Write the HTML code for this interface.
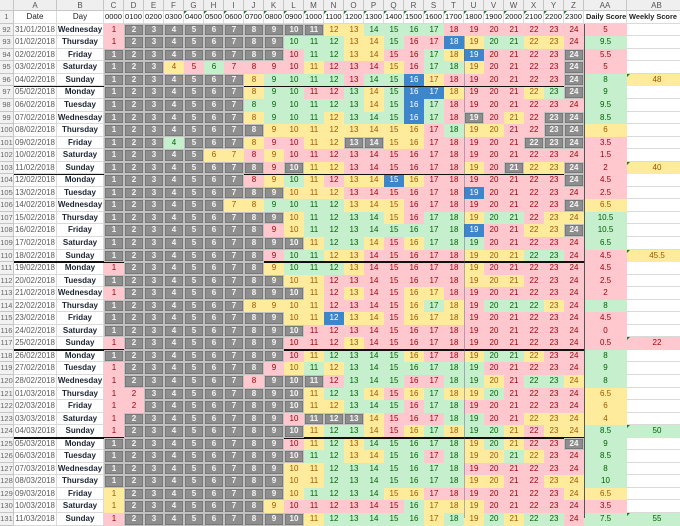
<!DOCTYPE html>
<html><head><meta charset="utf-8"><style>
body{margin:0;width:680px;height:518px;overflow:hidden;background:#fff;position:relative;font-family:"Liberation Sans",Arial,sans-serif}
#g{display:grid;grid-template-columns:14px 43px 47px repeat(24,20px) 43px 60px;grid-template-rows:11px 12.7px repeat(40,12.55px);width:690px}
#g>i{font-style:normal;font-size:8px;line-height:12.55px;text-align:center;white-space:nowrap;box-sizing:border-box;border-right:1px solid #dadada;border-bottom:1px solid #dadada;color:#222;overflow:visible}
#g>i.h{background:#efefef;color:#555;line-height:11px;border-color:#c6c6c6}
#g>i.r{background:#f1f1f1;color:#666;border-color:#c6c6c6;font-size:7.5px}
#g>i.a{color:#5a5a5a}
#g>i.d{font-weight:bold;color:#1c2433}
#g>i.k{font-weight:bold;color:#222;font-size:7.4px;text-align:left;padding-left:2px}
#g>i.c{font-size:7.6px;color:#111}
#g>i.p{background:#ffc7ce;color:#9c0006;border:0}
#g>i.y{background:#ffeb9c;color:#9c5700;border:0}
#g>i.n{background:#c6efce;color:#006100;border:0}
#g>i.b{background:#3d86cc;color:#fff;border:0}
#g>i.g{background:#8e8e8e;color:#f5f5f5;border:0;font-weight:bold;position:relative;z-index:2;box-shadow:inset 0 0 0 1px #c2c2c2,inset 0 0 0 1.6px #6c6c6c}
#g>i.t{position:relative}
#g>i.t::before{content:"";position:absolute;left:0;top:0;border-top:3px solid #1e7b34;border-right:3px solid transparent}
.l{position:absolute;left:14px;width:570px;height:1.6px;background:#111;z-index:1}
.v{position:absolute;width:1px;z-index:1}
</style></head><body>
<div id="g">
<i class=h></i><i class=h>A</i><i class=h>B</i><i class=h>C</i><i class=h>D</i><i class=h>E</i><i class=h>F</i><i class=h>G</i><i class=h>H</i><i class=h>I</i><i class=h>J</i><i class=h>K</i><i class=h>L</i><i class=h>M</i><i class=h>N</i><i class=h>O</i><i class=h>P</i><i class=h>Q</i><i class=h>R</i><i class=h>S</i><i class=h>T</i><i class=h>U</i><i class=h>V</i><i class=h>W</i><i class=h>X</i><i class=h>Y</i><i class=h>Z</i><i class=h>AA</i><i class=h>AB</i>
<i class=r>1</i><i>Date</i><i>Day</i><i class=c>0000</i><i class=c>0100</i><i class=c>0200</i><i class=c>0300</i><i class="c t">0400</i><i class="c t">0500</i><i class="c t">0600</i><i class="c t">0700</i><i class="c t">0800</i><i class="c t">0900</i><i class="c t">1000</i><i class="c t">1100</i><i class="c t">1200</i><i class="c t">1300</i><i class="c t">1400</i><i class="c t">1500</i><i class="c t">1600</i><i class="c t">1700</i><i class="c t">1800</i><i class="c t">1900</i><i class="c t">2000</i><i class="c t">2100</i><i class="c t">2200</i><i class="c t">2300</i><i class=k>Daily Score</i><i class=k>Weekly Score</i>

<i class=r>92</i><i class=a>31/01/2018</i><i class=d>Wednesday</i><i class=p>1</i><i class=g>2</i><i class=g>3</i><i class=g>4</i><i class=g>5</i><i class=g>6</i><i class=g>7</i><i class=g>8</i><i class=g>9</i><i class=g>10</i><i class=g>11</i><i class=y>12</i><i class=y>13</i><i class=n>14</i><i class=n>15</i><i class=n>16</i><i class=n>17</i><i class=p>18</i><i class=p>19</i><i class=p>20</i><i class=p>21</i><i class=p>22</i><i class=p>23</i><i class=p>24</i><i class=p>5</i><i></i>

<i class=r>93</i><i class=a>01/02/2018</i><i class=d>Thursday</i><i class=p>1</i><i class=g>2</i><i class=g>3</i><i class=g>4</i><i class=g>5</i><i class=g>6</i><i class=g>7</i><i class=g>8</i><i class=g>9</i><i class=n>10</i><i class=n>11</i><i class=n>12</i><i class=y>13</i><i class=y>14</i><i class=n>15</i><i class=p>16</i><i class=p>17</i><i class=b>18</i><i class=y>19</i><i class=n>20</i><i class=n>21</i><i class=y>22</i><i class=y>23</i><i class=p>24</i><i class=n>9.5</i><i></i>

<i class=r>94</i><i class=a>02/02/2018</i><i class=d>Friday</i><i class=g>1</i><i class=g>2</i><i class=g>3</i><i class=g>4</i><i class=g>5</i><i class=g>6</i><i class=g>7</i><i class=g>8</i><i class=g>9</i><i class=p>10</i><i class=n>11</i><i class=n>12</i><i class=y>13</i><i class=y>14</i><i class=p>15</i><i class=p>16</i><i class=n>17</i><i class=y>18</i><i class=b>19</i><i class=p>20</i><i class=p>21</i><i class=p>22</i><i class=p>23</i><i class=g>24</i><i class=p>5.5</i><i></i>

<i class=r>95</i><i class=a>03/02/2018</i><i class=d>Saturday</i><i class=g>1</i><i class=g>2</i><i class=g>3</i><i class=y>4</i><i class=p>5</i><i class=n>6</i><i class=p>7</i><i class=p>8</i><i class=p>9</i><i class=p>10</i><i class=y>11</i><i class=p>12</i><i class=p>13</i><i class=p>14</i><i class=y>15</i><i class=p>16</i><i class=n>17</i><i class=n>18</i><i class=y>19</i><i class=p>20</i><i class=p>21</i><i class=p>22</i><i class=p>23</i><i class=g>24</i><i class=p>5</i><i></i>

<i class=r>96</i><i class=a>04/02/2018</i><i class=d>Sunday</i><i class=g>1</i><i class=g>2</i><i class=g>3</i><i class=g>4</i><i class=g>5</i><i class=g>6</i><i class=g>7</i><i class=y>8</i><i class=n>9</i><i class=n>10</i><i class=n>11</i><i class=n>12</i><i class=p>13</i><i class=n>14</i><i class=n>15</i><i class=b>16</i><i class=y>17</i><i class=p>18</i><i class=p>19</i><i class=p>20</i><i class=p>21</i><i class=p>22</i><i class=p>23</i><i class=g>24</i><i class=n>8</i><i class="y t">48</i>

<i class=r>97</i><i class=a>05/02/2018</i><i class=d>Monday</i><i class=g>1</i><i class=g>2</i><i class=g>3</i><i class=g>4</i><i class=g>5</i><i class=g>6</i><i class=g>7</i><i class=y>8</i><i class=n>9</i><i class=n>10</i><i class=p>11</i><i class=p>12</i><i class=n>13</i><i class=y>14</i><i class=n>15</i><i class=b>16</i><i class=b>17</i><i class=y>18</i><i class=p>19</i><i class=p>20</i><i class=p>21</i><i class=y>22</i><i class=n>23</i><i class=g>24</i><i class=n>9</i><i></i>

<i class=r>98</i><i class=a>06/02/2018</i><i class=d>Tuesday</i><i class=g>1</i><i class=g>2</i><i class=g>3</i><i class=g>4</i><i class=g>5</i><i class=g>6</i><i class=g>7</i><i class=n>8</i><i class=n>9</i><i class=n>10</i><i class=n>11</i><i class=n>12</i><i class=n>13</i><i class=y>14</i><i class=n>15</i><i class=b>16</i><i class=n>17</i><i class=p>18</i><i class=p>19</i><i class=p>20</i><i class=p>21</i><i class=p>22</i><i class=p>23</i><i class=p>24</i><i class=n>9.5</i><i></i>

<i class=r>99</i><i class=a>07/02/2018</i><i class=d>Wednesday</i><i class=g>1</i><i class=g>2</i><i class=g>3</i><i class=g>4</i><i class=g>5</i><i class=g>6</i><i class=g>7</i><i class=y>8</i><i class=n>9</i><i class=n>10</i><i class=n>11</i><i class=y>12</i><i class=n>13</i><i class=n>14</i><i class=n>15</i><i class=b>16</i><i class=n>17</i><i class=p>18</i><i class=g>19</i><i class=p>20</i><i class=y>21</i><i class=p>22</i><i class=g>23</i><i class=g>24</i><i class=n>8.5</i><i></i>

<i class=r>100</i><i class=a>08/02/2018</i><i class=d>Thursday</i><i class=g>1</i><i class=g>2</i><i class=g>3</i><i class=g>4</i><i class=g>5</i><i class=g>6</i><i class=g>7</i><i class=g>8</i><i class=y>9</i><i class=y>10</i><i class=y>11</i><i class=y>12</i><i class=y>13</i><i class=y>14</i><i class=y>15</i><i class=y>16</i><i class=p>17</i><i class=n>18</i><i class=y>19</i><i class=y>20</i><i class=p>21</i><i class=p>22</i><i class=g>23</i><i class=g>24</i><i class=y>6</i><i></i>

<i class=r>101</i><i class=a>09/02/2018</i><i class=d>Friday</i><i class=g>1</i><i class=g>2</i><i class=g>3</i><i class=n>4</i><i class=g>5</i><i class=g>6</i><i class=g>7</i><i class=y>8</i><i class=p>9</i><i class=p>10</i><i class=y>11</i><i class=y>12</i><i class=g>13</i><i class=g>14</i><i class=y>15</i><i class=y>16</i><i class=p>17</i><i class=p>18</i><i class=p>19</i><i class=p>20</i><i class=p>21</i><i class=g>22</i><i class=g>23</i><i class=g>24</i><i class=p>3.5</i><i></i>

<i class=r>102</i><i class=a>10/02/2018</i><i class=d>Saturday</i><i class=g>1</i><i class=g>2</i><i class=g>3</i><i class=g>4</i><i class=g>5</i><i class=y>6</i><i class=y>7</i><i class=p>8</i><i class=y>9</i><i class=p>10</i><i class=p>11</i><i class=p>12</i><i class=p>13</i><i class=p>14</i><i class=p>15</i><i class=p>16</i><i class=p>17</i><i class=p>18</i><i class=p>19</i><i class=p>20</i><i class=p>21</i><i class=p>22</i><i class=p>23</i><i class=p>24</i><i class=p>1.5</i><i></i>

<i class=r>103</i><i class=a>11/02/2018</i><i class=d>Sunday</i><i class=g>1</i><i class=g>2</i><i class=g>3</i><i class=g>4</i><i class=g>5</i><i class=g>6</i><i class=g>7</i><i class=g>8</i><i class=p>9</i><i class=g>10</i><i class=y>11</i><i class=y>12</i><i class=p>13</i><i class=p>14</i><i class=p>15</i><i class=p>16</i><i class=p>17</i><i class=p>18</i><i class=y>19</i><i class=p>20</i><i class=g>21</i><i class=y>22</i><i class=y>23</i><i class=g>24</i><i class=p>2</i><i class="y t">40</i>

<i class=r>104</i><i class=a>12/02/2018</i><i class=d>Monday</i><i class=g>1</i><i class=g>2</i><i class=g>3</i><i class=g>4</i><i class=g>5</i><i class=g>6</i><i class=g>7</i><i class=p>8</i><i class=y>9</i><i class=n>10</i><i class=y>11</i><i class=p>12</i><i class=y>13</i><i class=y>14</i><i class=b>15</i><i class=y>16</i><i class=p>17</i><i class=p>18</i><i class=p>19</i><i class=p>20</i><i class=p>21</i><i class=p>22</i><i class=p>23</i><i class=g>24</i><i class=p>4.5</i><i></i>

<i class=r>105</i><i class=a>13/02/2018</i><i class=d>Tuesday</i><i class=g>1</i><i class=g>2</i><i class=g>3</i><i class=g>4</i><i class=g>5</i><i class=g>6</i><i class=g>7</i><i class=g>8</i><i class=g>9</i><i class=y>10</i><i class=y>11</i><i class=y>12</i><i class=p>13</i><i class=p>14</i><i class=p>15</i><i class=p>16</i><i class=p>17</i><i class=p>18</i><i class=b>19</i><i class=p>20</i><i class=p>21</i><i class=p>22</i><i class=p>23</i><i class=p>24</i><i class=p>2.5</i><i></i>

<i class=r>106</i><i class=a>14/02/2018</i><i class=d>Wednesday</i><i class=g>1</i><i class=g>2</i><i class=g>3</i><i class=g>4</i><i class=g>5</i><i class=g>6</i><i class=y>7</i><i class=y>8</i><i class=n>9</i><i class=n>10</i><i class=n>11</i><i class=n>12</i><i class=y>13</i><i class=y>14</i><i class=y>15</i><i class=p>16</i><i class=p>17</i><i class=p>18</i><i class=p>19</i><i class=p>20</i><i class=p>21</i><i class=p>22</i><i class=p>23</i><i class=g>24</i><i class=y>6.5</i><i></i>

<i class=r>107</i><i class=a>15/02/2018</i><i class=d>Thursday</i><i class=g>1</i><i class=g>2</i><i class=g>3</i><i class=g>4</i><i class=g>5</i><i class=g>6</i><i class=g>7</i><i class=g>8</i><i class=g>9</i><i class=y>10</i><i class=n>11</i><i class=n>12</i><i class=n>13</i><i class=n>14</i><i class=y>15</i><i class=p>16</i><i class=n>17</i><i class=n>18</i><i class=y>19</i><i class=n>20</i><i class=n>21</i><i class=p>22</i><i class=y>23</i><i class=y>24</i><i class=n>10.5</i><i></i>

<i class=r>108</i><i class=a>16/02/2018</i><i class=d>Friday</i><i class=g>1</i><i class=g>2</i><i class=g>3</i><i class=g>4</i><i class=g>5</i><i class=g>6</i><i class=g>7</i><i class=g>8</i><i class=p>9</i><i class=y>10</i><i class=n>11</i><i class=n>12</i><i class=n>13</i><i class=n>14</i><i class=n>15</i><i class=n>16</i><i class=n>17</i><i class=n>18</i><i class=b>19</i><i class=p>20</i><i class=p>21</i><i class=y>22</i><i class=y>23</i><i class=g>24</i><i class=n>10.5</i><i></i>

<i class=r>109</i><i class=a>17/02/2018</i><i class=d>Saturday</i><i class=g>1</i><i class=g>2</i><i class=g>3</i><i class=g>4</i><i class=g>5</i><i class=g>6</i><i class=g>7</i><i class=g>8</i><i class=g>9</i><i class=g>10</i><i class=y>11</i><i class=n>12</i><i class=n>13</i><i class=y>14</i><i class=p>15</i><i class=y>16</i><i class=n>17</i><i class=n>18</i><i class=n>19</i><i class=p>20</i><i class=p>21</i><i class=p>22</i><i class=p>23</i><i class=p>24</i><i class=n>6.5</i><i></i>

<i class=r>110</i><i class=a>18/02/2018</i><i class=d>Sunday</i><i class=g>1</i><i class=g>2</i><i class=g>3</i><i class=g>4</i><i class=g>5</i><i class=g>6</i><i class=g>7</i><i class=g>8</i><i class=p>9</i><i class=n>10</i><i class=n>11</i><i class=y>12</i><i class=y>13</i><i class=p>14</i><i class=p>15</i><i class=p>16</i><i class=p>17</i><i class=p>18</i><i class=y>19</i><i class=y>20</i><i class=y>21</i><i class=n>22</i><i class=n>23</i><i class=p>24</i><i class=p>4.5</i><i class="y t">45.5</i>

<i class=r>111</i><i class=a>19/02/2018</i><i class=d>Monday</i><i class=p>1</i><i class=g>2</i><i class=g>3</i><i class=g>4</i><i class=g>5</i><i class=g>6</i><i class=g>7</i><i class=g>8</i><i class=y>9</i><i class=n>10</i><i class=n>11</i><i class=n>12</i><i class=y>13</i><i class=p>14</i><i class=p>15</i><i class=p>16</i><i class=p>17</i><i class=p>18</i><i class=y>19</i><i class=p>20</i><i class=p>21</i><i class=p>22</i><i class=p>23</i><i class=p>24</i><i class=p>4.5</i><i></i>

<i class=r>112</i><i class=a>20/02/2018</i><i class=d>Tuesday</i><i class=g>1</i><i class=g>2</i><i class=g>3</i><i class=g>4</i><i class=g>5</i><i class=g>6</i><i class=g>7</i><i class=g>8</i><i class=g>9</i><i class=y>10</i><i class=y>11</i><i class=p>12</i><i class=p>13</i><i class=p>14</i><i class=p>15</i><i class=p>16</i><i class=p>17</i><i class=p>18</i><i class=y>19</i><i class=y>20</i><i class=y>21</i><i class=p>22</i><i class=p>23</i><i class=p>24</i><i class=p>2.5</i><i></i>

<i class=r>113</i><i class=a>21/02/2018</i><i class=d>Wednesday</i><i class=p>1</i><i class=g>2</i><i class=g>3</i><i class=g>4</i><i class=g>5</i><i class=g>6</i><i class=g>7</i><i class=g>8</i><i class=g>9</i><i class=g>10</i><i class=y>11</i><i class=p>12</i><i class=y>13</i><i class=p>14</i><i class=p>15</i><i class=y>16</i><i class=y>17</i><i class=p>18</i><i class=p>19</i><i class=p>20</i><i class=p>21</i><i class=p>22</i><i class=p>23</i><i class=p>24</i><i class=p>2</i><i></i>

<i class=r>114</i><i class=a>22/02/2018</i><i class=d>Thursday</i><i class=g>1</i><i class=g>2</i><i class=g>3</i><i class=g>4</i><i class=g>5</i><i class=g>6</i><i class=g>7</i><i class=y>8</i><i class=y>9</i><i class=y>10</i><i class=y>11</i><i class=p>12</i><i class=p>13</i><i class=p>14</i><i class=p>15</i><i class=y>16</i><i class=n>17</i><i class=y>18</i><i class=p>19</i><i class=n>20</i><i class=n>21</i><i class=n>22</i><i class=y>23</i><i class=p>24</i><i class=n>8</i><i></i>

<i class=r>115</i><i class=a>23/02/2018</i><i class=d>Friday</i><i class=g>1</i><i class=g>2</i><i class=g>3</i><i class=g>4</i><i class=g>5</i><i class=g>6</i><i class=g>7</i><i class=g>8</i><i class=g>9</i><i class=y>10</i><i class=y>11</i><i class=b>12</i><i class=y>13</i><i class=y>14</i><i class=p>15</i><i class=y>16</i><i class=y>17</i><i class=y>18</i><i class=p>19</i><i class=p>20</i><i class=p>21</i><i class=p>22</i><i class=p>23</i><i class=p>24</i><i class=p>4.5</i><i></i>

<i class=r>116</i><i class=a>24/02/2018</i><i class=d>Saturday</i><i class=g>1</i><i class=g>2</i><i class=g>3</i><i class=g>4</i><i class=g>5</i><i class=g>6</i><i class=g>7</i><i class=g>8</i><i class=g>9</i><i class=g>10</i><i class=p>11</i><i class=p>12</i><i class=p>13</i><i class=p>14</i><i class=p>15</i><i class=p>16</i><i class=p>17</i><i class=p>18</i><i class=p>19</i><i class=p>20</i><i class=p>21</i><i class=p>22</i><i class=p>23</i><i class=p>24</i><i class=p>0</i><i></i>

<i class=r>117</i><i class=a>25/02/2018</i><i class=d>Sunday</i><i class=p>1</i><i class=g>2</i><i class=g>3</i><i class=g>4</i><i class=g>5</i><i class=g>6</i><i class=g>7</i><i class=g>8</i><i class=g>9</i><i class=p>10</i><i class=p>11</i><i class=p>12</i><i class=y>13</i><i class=p>14</i><i class=p>15</i><i class=p>16</i><i class=p>17</i><i class=p>18</i><i class=p>19</i><i class=p>20</i><i class=p>21</i><i class=p>22</i><i class=p>23</i><i class=p>24</i><i class=p>0.5</i><i class="p t">22</i>

<i class=r>118</i><i class=a>26/02/2018</i><i class=d>Monday</i><i class=g>1</i><i class=g>2</i><i class=g>3</i><i class=g>4</i><i class=g>5</i><i class=g>6</i><i class=g>7</i><i class=g>8</i><i class=g>9</i><i class=p>10</i><i class=y>11</i><i class=n>12</i><i class=n>13</i><i class=n>14</i><i class=n>15</i><i class=y>16</i><i class=p>17</i><i class=p>18</i><i class=y>19</i><i class=n>20</i><i class=n>21</i><i class=y>22</i><i class=p>23</i><i class=p>24</i><i class=n>8</i><i></i>

<i class=r>119</i><i class=a>27/02/2018</i><i class=d>Tuesday</i><i class=p>1</i><i class=g>2</i><i class=g>3</i><i class=g>4</i><i class=g>5</i><i class=g>6</i><i class=g>7</i><i class=g>8</i><i class=p>9</i><i class=y>10</i><i class=n>11</i><i class=y>12</i><i class=n>13</i><i class=n>14</i><i class=n>15</i><i class=n>16</i><i class=n>17</i><i class=n>18</i><i class=n>19</i><i class=p>20</i><i class=p>21</i><i class=p>22</i><i class=p>23</i><i class=p>24</i><i class=n>9</i><i></i>

<i class=r>120</i><i class=a>28/02/2018</i><i class=d>Wednesday</i><i class=p>1</i><i class=g>2</i><i class=g>3</i><i class=g>4</i><i class=g>5</i><i class=g>6</i><i class=g>7</i><i class=p>8</i><i class=g>9</i><i class=g>10</i><i class=g>11</i><i class=p>12</i><i class=n>13</i><i class=n>14</i><i class=n>15</i><i class=p>16</i><i class=p>17</i><i class=n>18</i><i class=n>19</i><i class=y>20</i><i class=p>21</i><i class=n>22</i><i class=n>23</i><i class=y>24</i><i class=n>8</i><i></i>

<i class=r>121</i><i class=a>01/03/2018</i><i class=d>Thursday</i><i class=p>1</i><i class=p>2</i><i class=g>3</i><i class=g>4</i><i class=g>5</i><i class=g>6</i><i class=g>7</i><i class=g>8</i><i class=g>9</i><i class=g>10</i><i class=y>11</i><i class=n>12</i><i class=n>13</i><i class=y>14</i><i class=p>15</i><i class=y>16</i><i class=n>17</i><i class=y>18</i><i class=y>19</i><i class=n>20</i><i class=p>21</i><i class=p>22</i><i class=p>23</i><i class=p>24</i><i class=y>6.5</i><i></i>

<i class=r>122</i><i class=a>02/03/2018</i><i class=d>Friday</i><i class=p>1</i><i class=p>2</i><i class=g>3</i><i class=g>4</i><i class=g>5</i><i class=g>6</i><i class=g>7</i><i class=g>8</i><i class=g>9</i><i class=g>10</i><i class=y>11</i><i class=y>12</i><i class=n>13</i><i class=n>14</i><i class=n>15</i><i class=p>16</i><i class=n>17</i><i class=n>18</i><i class=p>19</i><i class=p>20</i><i class=p>21</i><i class=p>22</i><i class=p>23</i><i class=p>24</i><i class=y>6</i><i></i>

<i class=r>123</i><i class=a>03/03/2018</i><i class=d>Saturday</i><i class=p>1</i><i class=g>2</i><i class=g>3</i><i class=g>4</i><i class=g>5</i><i class=g>6</i><i class=g>7</i><i class=g>8</i><i class=g>9</i><i class=p>10</i><i class=g>11</i><i class=g>12</i><i class=g>13</i><i class=y>14</i><i class=p>15</i><i class=p>16</i><i class=p>17</i><i class=n>18</i><i class=n>19</i><i class=p>20</i><i class=p>21</i><i class=y>22</i><i class=y>23</i><i class=y>24</i><i class=y>4</i><i></i>

<i class=r>124</i><i class=a>04/03/2018</i><i class=d>Sunday</i><i class=p>1</i><i class=g>2</i><i class=g>3</i><i class=g>4</i><i class=g>5</i><i class=g>6</i><i class=g>7</i><i class=g>8</i><i class=g>9</i><i class=g>10</i><i class=y>11</i><i class=n>12</i><i class=n>13</i><i class=y>14</i><i class=p>15</i><i class=y>16</i><i class=n>17</i><i class=y>18</i><i class=n>19</i><i class=n>20</i><i class=y>21</i><i class=p>22</i><i class=y>23</i><i class=y>24</i><i class=n>8.5</i><i class="n t">50</i>

<i class=r>125</i><i class=a>05/03/2018</i><i class=d>Monday</i><i class=g>1</i><i class=g>2</i><i class=g>3</i><i class=g>4</i><i class=g>5</i><i class=g>6</i><i class=g>7</i><i class=g>8</i><i class=g>9</i><i class=p>10</i><i class=y>11</i><i class=n>12</i><i class=y>13</i><i class=n>14</i><i class=n>15</i><i class=n>16</i><i class=n>17</i><i class=n>18</i><i class=y>19</i><i class=n>20</i><i class=y>21</i><i class=p>22</i><i class=p>23</i><i class=g>24</i><i class=n>9</i><i></i>

<i class=r>126</i><i class=a>06/03/2018</i><i class=d>Tuesday</i><i class=g>1</i><i class=g>2</i><i class=g>3</i><i class=g>4</i><i class=g>5</i><i class=g>6</i><i class=g>7</i><i class=g>8</i><i class=g>9</i><i class=g>10</i><i class=n>11</i><i class=n>12</i><i class=y>13</i><i class=y>14</i><i class=n>15</i><i class=n>16</i><i class=p>17</i><i class=n>18</i><i class=y>19</i><i class=y>20</i><i class=n>21</i><i class=y>22</i><i class=p>23</i><i class=p>24</i><i class=n>8.5</i><i></i>

<i class=r>127</i><i class=a>07/03/2018</i><i class=d>Wednesday</i><i class=g>1</i><i class=g>2</i><i class=g>3</i><i class=g>4</i><i class=g>5</i><i class=g>6</i><i class=g>7</i><i class=g>8</i><i class=g>9</i><i class=y>10</i><i class=y>11</i><i class=n>12</i><i class=n>13</i><i class=n>14</i><i class=n>15</i><i class=n>16</i><i class=n>17</i><i class=n>18</i><i class=p>19</i><i class=p>20</i><i class=p>21</i><i class=p>22</i><i class=p>23</i><i class=p>24</i><i class=n>8</i><i></i>

<i class=r>128</i><i class=a>08/03/2018</i><i class=d>Thursday</i><i class=g>1</i><i class=g>2</i><i class=g>3</i><i class=g>4</i><i class=g>5</i><i class=g>6</i><i class=g>7</i><i class=g>8</i><i class=g>9</i><i class=y>10</i><i class=y>11</i><i class=n>12</i><i class=n>13</i><i class=n>14</i><i class=n>15</i><i class=n>16</i><i class=n>17</i><i class=n>18</i><i class=y>19</i><i class=y>20</i><i class=p>21</i><i class=p>22</i><i class=y>23</i><i class=y>24</i><i class=n>10</i><i></i>

<i class=r>129</i><i class=a>09/03/2018</i><i class=d>Friday</i><i class=y>1</i><i class=g>2</i><i class=g>3</i><i class=g>4</i><i class=g>5</i><i class=g>6</i><i class=g>7</i><i class=g>8</i><i class=g>9</i><i class=y>10</i><i class=n>11</i><i class=n>12</i><i class=n>13</i><i class=n>14</i><i class=y>15</i><i class=y>16</i><i class=p>17</i><i class=p>18</i><i class=p>19</i><i class=p>20</i><i class=p>21</i><i class=p>22</i><i class=p>23</i><i class=y>24</i><i class=y>6.5</i><i></i>

<i class=r>130</i><i class=a>10/03/2018</i><i class=d>Saturday</i><i class=y>1</i><i class=g>2</i><i class=g>3</i><i class=g>4</i><i class=g>5</i><i class=g>6</i><i class=g>7</i><i class=g>8</i><i class=y>9</i><i class=p>10</i><i class=p>11</i><i class=p>12</i><i class=p>13</i><i class=p>14</i><i class=p>15</i><i class=n>16</i><i class=y>17</i><i class=y>18</i><i class=y>19</i><i class=p>20</i><i class=p>21</i><i class=p>22</i><i class=p>23</i><i class=p>24</i><i class=p>3.5</i><i></i>

<i class=r>131</i><i class=a>11/03/2018</i><i class=d>Sunday</i><i class=p>1</i><i class=g>2</i><i class=g>3</i><i class=g>4</i><i class=g>5</i><i class=g>6</i><i class=g>7</i><i class=g>8</i><i class=g>9</i><i class=g>10</i><i class=y>11</i><i class=n>12</i><i class=n>13</i><i class=n>14</i><i class=n>15</i><i class=n>16</i><i class=y>17</i><i class=n>18</i><i class=y>19</i><i class=n>20</i><i class=y>21</i><i class=n>22</i><i class=n>23</i><i class=p>24</i><i class=n>7.5</i><i class="n t">55</i>
</div>
<div class="l" style="top:85.6px"></div>
<div class="l" style="top:173.5px"></div>
<div class="l" style="top:261.3px"></div>
<div class="l" style="top:349.2px"></div>
<div class="l" style="top:437px"></div>
<div class="v" style="left:463.5px;top:36px;height:482px;background:rgba(90,90,150,0.45)"></div>
<div class="v" style="left:583.5px;top:24px;height:494px;background:#555"></div>
</body></html>
